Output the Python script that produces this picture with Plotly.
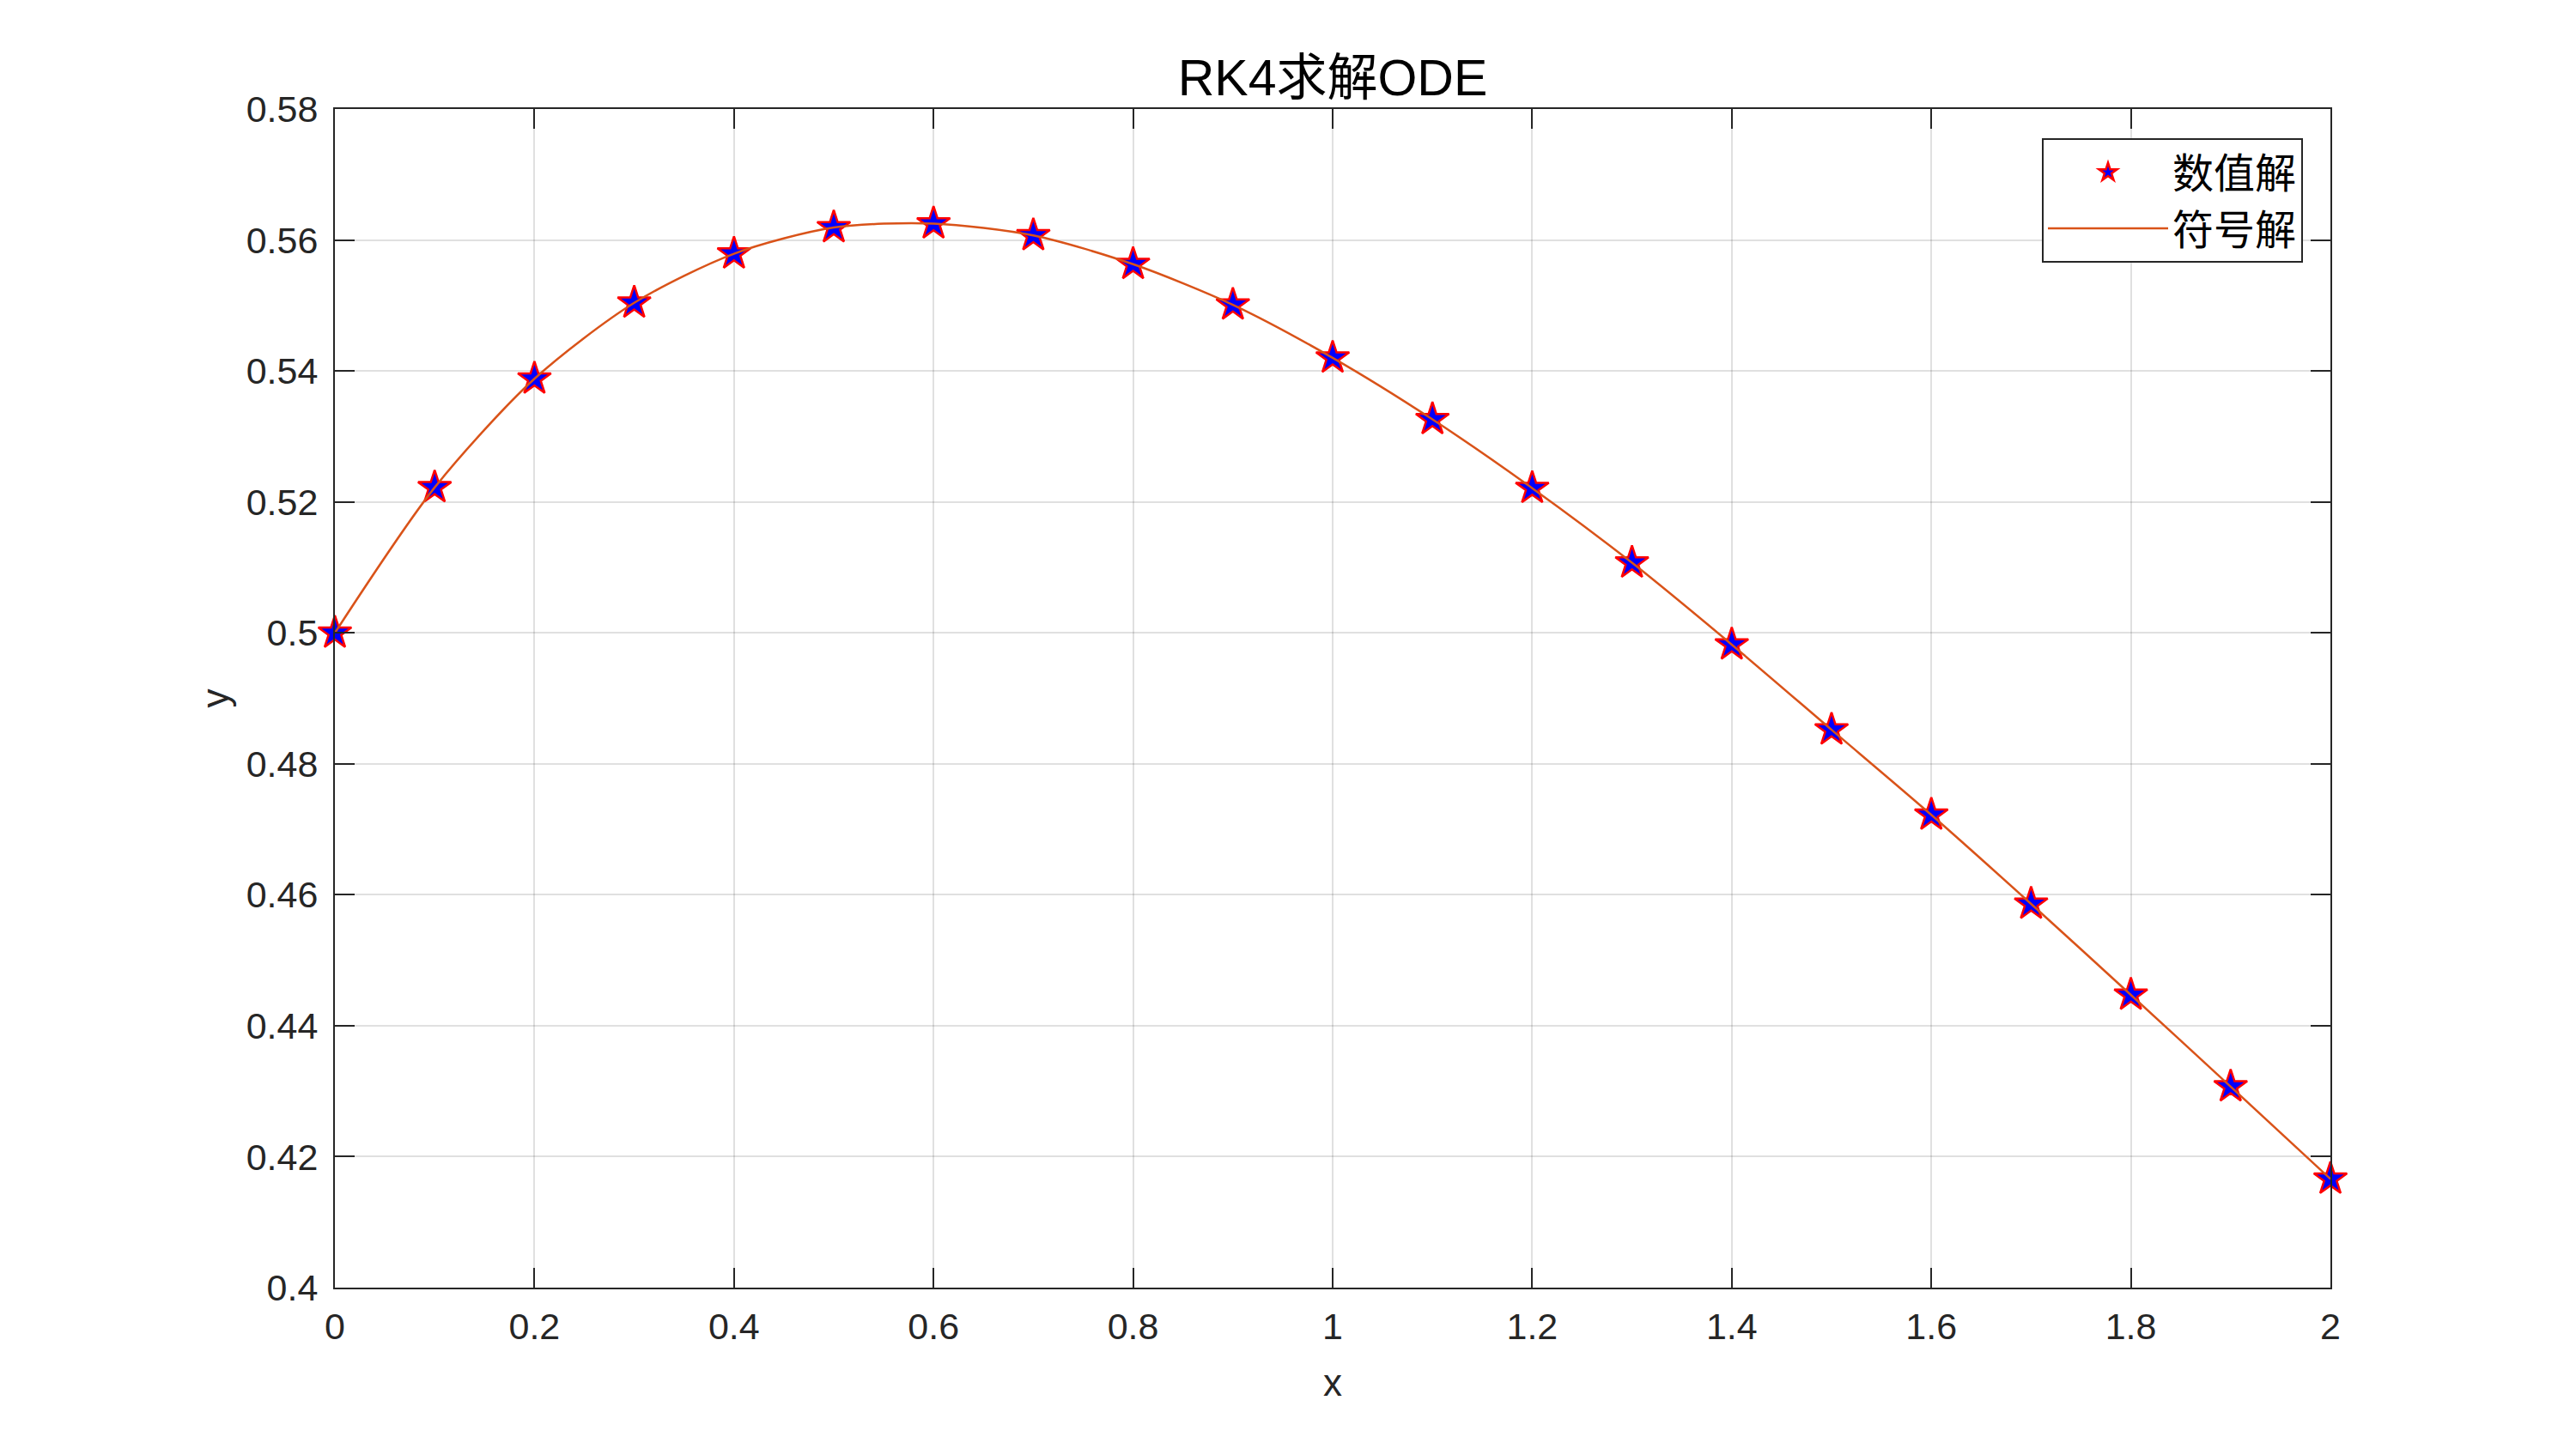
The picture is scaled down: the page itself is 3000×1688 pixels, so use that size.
import plotly.graph_objects as go

# ---- data ----
x_vals = [0.0, 0.1, 0.2, 0.3, 0.4, 0.5, 0.6, 0.7, 0.8, 0.9, 1.0,
          1.1, 1.2, 1.3, 1.4, 1.5, 1.6, 1.7, 1.8, 1.9, 2.0]
y_numeric = [0.5000, 0.5222, 0.5388, 0.5504, 0.5579, 0.5619, 0.5625, 0.5607,
             0.5563, 0.5501, 0.5420, 0.5326, 0.5221, 0.5107, 0.4982, 0.4852,
             0.4722, 0.4586, 0.4447, 0.4307, 0.4166]
y_symbolic = [0.5000, 0.5222, 0.5388, 0.5504, 0.5579, 0.5619, 0.5625, 0.5607,
              0.5563, 0.5501, 0.5420, 0.5326, 0.5221, 0.5107, 0.4982, 0.4852,
              0.4722, 0.4586, 0.4447, 0.4307, 0.4166]

x_ticks = [0, 0.2, 0.4, 0.6, 0.8, 1.0, 1.2, 1.4, 1.6, 1.8, 2.0]
x_tick_labels = ["0", "0.2", "0.4", "0.6", "0.8", "1", "1.2", "1.4", "1.6", "1.8", "2"]
y_ticks = [0.40, 0.42, 0.44, 0.46, 0.48, 0.50, 0.52, 0.54, 0.56, 0.58]
y_tick_labels = ["0.4", "0.42", "0.44", "0.46", "0.48", "0.5", "0.52", "0.54", "0.56", "0.58"]

title_text = "RK4求解ODE"
name_numeric = "数值解"
name_symbolic = "符号解"

W, H = 3000, 1688
# page body adds ~8px offset; margins compensate
L, R, T, B = 382, 294, 119, 196

font_main = "Liberation Sans, Arial, Noto Sans CJK SC"
font_cjk = "Noto Sans CJK SC, Liberation Sans"
axis_col = "#262626"

fig = go.Figure()
fig.add_trace(go.Scatter(
    x=x_vals, y=y_numeric, mode="markers", name=name_numeric,
    marker=dict(symbol="star", size=29, color="#0000FF",
                line=dict(color="#FF0000", width=2.5)),
    cliponaxis=False,
))
fig.add_trace(go.Scatter(
    x=x_vals, y=y_symbolic, mode="lines", name=name_symbolic,
    line=dict(color="#D95319", width=2.5, shape="spline", smoothing=0.8),
))

axis_common = dict(
    showline=True, linecolor=axis_col, linewidth=2, mirror="ticks",
    ticks="inside", ticklen=23, tickwidth=2, tickcolor=axis_col,
    showgrid=True, gridcolor="rgba(38,38,38,0.14)", gridwidth=2,
    zeroline=False,
    tickfont=dict(family=font_main, size=43, color=axis_col),
)

fig.update_xaxes(
    range=[0, 2], tickvals=x_ticks, ticktext=x_tick_labels,
    title=dict(text="x", font=dict(family=font_main, size=44, color=axis_col), standoff=28),
    ticklabelstandoff=6,
    **axis_common,
)
fig.update_yaxes(
    range=[0.4, 0.58], tickvals=y_ticks, ticktext=y_tick_labels,
    title=dict(text="y", font=dict(family=font_main, size=44, color=axis_col), standoff=6),
    ticklabelstandoff=9,
    **axis_common,
)

fig.update_layout(
    width=W, height=H,
    margin=dict(l=L, r=R, t=T, b=B, autoexpand=False),
    paper_bgcolor="white", plot_bgcolor="white",
    title=dict(text=title_text, x=(L + (W - L - R) / 2) / W, xanchor="center",
               y=1 - 82 / H, yanchor="middle",
               font=dict(family=font_main, size=59, color="black")),
    showlegend=True,
    legend=dict(
        x=(2674 - L) / (W - L - R), xanchor="right",
        y=(H - B - 153) / (H - T - B), yanchor="top",
        bgcolor="white", bordercolor=axis_col, borderwidth=2,
        font=dict(family=font_cjk, size=48, color="black"),
        itemwidth=140,
    ),
)

fig.write_html("out.html")
